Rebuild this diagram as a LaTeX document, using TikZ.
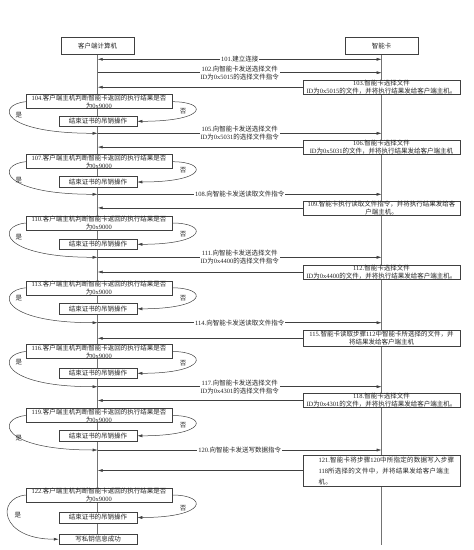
\documentclass[tikz,border=0pt]{standalone}
\usepackage{fontspec}
\setmainfont{Liberation Serif}
\newfontfamily\cjk{Noto Sans CJK SC}
\newfontfamily\cjkw[LetterSpace=4]{Noto Sans CJK SC}
\newfontfamily\latn{Liberation Serif}
\newcommand\lt[1]{{\latn #1}}
\newcommand\dectxt[1]{\lt{#1.}客户端主机判断智能卡返回的执行结果是否\\为\lt{0x9000}}
\usetikzlibrary{arrows.meta}
\begin{document}
\begin{tikzpicture}[x=1pt,y=-1pt,
  every node/.style={font={\cjk\fontsize{6.5}{8}\selectfont}, text=black!85},
  boxline/.style={draw=black!75, line width=0.5pt, fill=white, inner sep=0pt, align=center},
  hdr/.style={boxline, minimum width=73pt, minimum height=17pt},
  rbox/.style={boxline, minimum width=157pt, minimum height=14.3pt},
  dbox/.style={boxline, minimum width=146pt, minimum height=13.5pt},
  ebox/.style={boxline, minimum width=78pt, minimum height=10.8pt},
  lbl/.style={fill=white, inner sep=1pt, align=center},
  msg/.style={draw=black!75, line width=0.5pt, -{Latex[length=5pt,width=3pt]}},
  dmsg/.style={draw=black!75, line width=0.5pt, {Latex[length=5pt,width=3pt]}-{Latex[length=5pt,width=3pt]}},
  life/.style={draw=black!55, line width=0.45pt},
  tag/.style={inner sep=0pt}]
\path[use as bounding box] (0,0) rectangle (474,550);

% headers and lifelines
\node[hdr] (hL) at (97.7,45.8) {客户端计算机};
\node[hdr] (hR) at (381.7,45.8) {智能卡};
\coordinate (L) at (97.7,545);
\coordinate (R) at (381.7,545);
\draw[life] (hL.south) -- (L);
\draw[life] (hR.south) -- (R);

% right-side boxes
\node[rbox] (b103) at (381.5,87.2) {\lt{103.}智能卡选择文件\\\lt{ID}为\lt{0x5015}的文件，并将执行结果发给客户端主机。};
\node[rbox] (b106) at (381.5,147.1) {\lt{106.}智能卡选择文件\\\lt{ID}为\lt{0x5031}的文件，并将执行结果发给客户端主机};
\node[rbox] (b109) at (381.5,207.9) {\lt{109.}智能卡执行读取文件指令，并将执行结果发给客\\户端主机。};
\node[rbox] (b112) at (381.5,272) {\lt{112.}智能卡选择文件\\\lt{ID}为\lt{0x4400}的文件，并将执行结果发给客户端主机。};
\node[rbox, minimum height=16.5pt] (b115) at (381.5,338.3) {\lt{115.}智能卡读取步骤\lt{112}中智能卡所选择的文件，并\\将结果发给客户端主机};
\node[rbox] (b118) at (381.5,400.5) {\lt{118.}智能卡选择文件\\\lt{ID}为\lt{0x4301}的文件，并将执行结果发给客户端主机。};
\node[rbox, minimum height=31pt] (b121) at (381.5,470.5) {};
\node[tag, anchor=west, align=left, font={\cjkw\fontsize{6.5}{11.5}\selectfont}] (t121) at (318.5,471)
  {\lt{121.}智能卡将步骤\lt{120}中所指定的数据写入步骤\\\lt{118}所选择的文件中，并将结果发给客户端主\\机。};

% decision boxes and end boxes
\node[dbox] (d104) at (99,101.7) {\dectxt{104}};
\node[ebox] (e104) at (98,121.3) {结束证书的吊销操作};
\node[dbox] (d107) at (99,161.7) {\dectxt{107}};
\node[ebox] (e107) at (98,182) {结束证书的吊销操作};
\node[dbox] (d110) at (99,223) {\dectxt{110}};
\node[ebox] (e110) at (98,244.3) {结束证书的吊销操作};
\node[dbox] (d113) at (99,287.8) {\dectxt{113}};
\node[ebox] (e113) at (98,308.8) {结束证书的吊销操作};
\node[dbox] (d116) at (99,351.5) {\dectxt{116}};
\node[ebox] (e116) at (98,373.3) {结束证书的吊销操作};
\node[dbox] (d119) at (99,415.5) {\dectxt{119}};
\node[ebox] (e119) at (98,435.8) {结束证书的吊销操作};
\node[dbox] (d122) at (99,495) {\dectxt{122}};
\node[ebox] (e122) at (98,517.5) {结束证书的吊销操作};
\node[ebox] (w) at (98,539.2) {写私钥信息成功};

% forward messages
\coordinate (y101) at (0,59.3);
\coordinate (y102) at (0,72.7);
\coordinate (y105) at (0,133.3);
\coordinate (y108) at (0,194.3);
\coordinate (y111) at (0,257.3);
\coordinate (y114) at (0,322.7);
\coordinate (y117) at (0,386.7);
\coordinate (y120) at (0,450);
\draw[dmsg] (y101 -| hL) -- node[lbl] (m101) {\lt{101.}建立连接} (y101 -| hR);
\draw[msg] (y102 -| hL) -- node[lbl] (m102) {\lt{102.}向智能卡发送选择文件\\\lt{ID}为\lt{0x5015}的选择文件指令} (y102 -| hR);
\draw[msg] (y105 -| hL) -- node[lbl] (m105) {\lt{105.}向智能卡发送选择文件\\\lt{ID}为\lt{0x5031}的选择文件指令} (y105 -| hR);
\draw[msg] (y108 -| hL) -- node[lbl] (m108) {\lt{108.}向智能卡发送读取文件指令} (y108 -| hR);
\draw[msg] (y111 -| hL) -- node[lbl] (m111) {\lt{111.}向智能卡发送选择文件\\\lt{ID}为\lt{0x4400}的选择文件指令} (y111 -| hR);
\draw[msg] (y114 -| hL) -- node[lbl] (m114) {\lt{114.}向智能卡发送读取文件指令} (y114 -| hR);
\draw[msg] (y117 -| hL) -- node[lbl] (m117) {\lt{117.}向智能卡发送选择文件\\\lt{ID}为\lt{0x4301}的选择文件指令} (y117 -| hR);
\draw[msg] (y120 -| hL) -- node[lbl] (m120) {\lt{120.}向智能卡发送写数据指令} (y120 -| hR);

% return messages
\foreach \b in {b103,b106,b109,b112,b115,b118,b121}
  \draw[msg] (\b.west) -- (\b.west -| hL);

% yes / no loops
\foreach \d/\e/\nx/\ny/\sx/\sy/\fy in {104/104/105/183/19/115/111, 107/107/108/183/19/180/170.7, 110/110/111/183/19/237.3/234, 113/113/114/183/19/298.3/298.3, 116/116/117/183/19/361.7/363, 119/119/120/183/19/438.3/425}{
  \draw[msg] (d\d.east) .. controls +(36,0) and +(71,0) .. (e\e.east);
  \draw[msg] (d\d.west) .. controls +(-30,3) and +(-97.7,0) .. (y\nx -| hL);
  \node[tag] (no\d) at (\ny,\fy) {否};
  \node[tag] (yes\d) at (\sx,\sy) {是};
}
\draw[msg] (d122.east) .. controls +(36,0) and +(71,0) .. (e122.east);
\draw[msg] (d122.west) .. controls +(-30,3) and +(-59,0) .. (w.west);
\node[tag] (no122) at (183,508.3) {否};
\node[tag] (yes122) at (18,515) {是};
\end{tikzpicture}
\end{document}
